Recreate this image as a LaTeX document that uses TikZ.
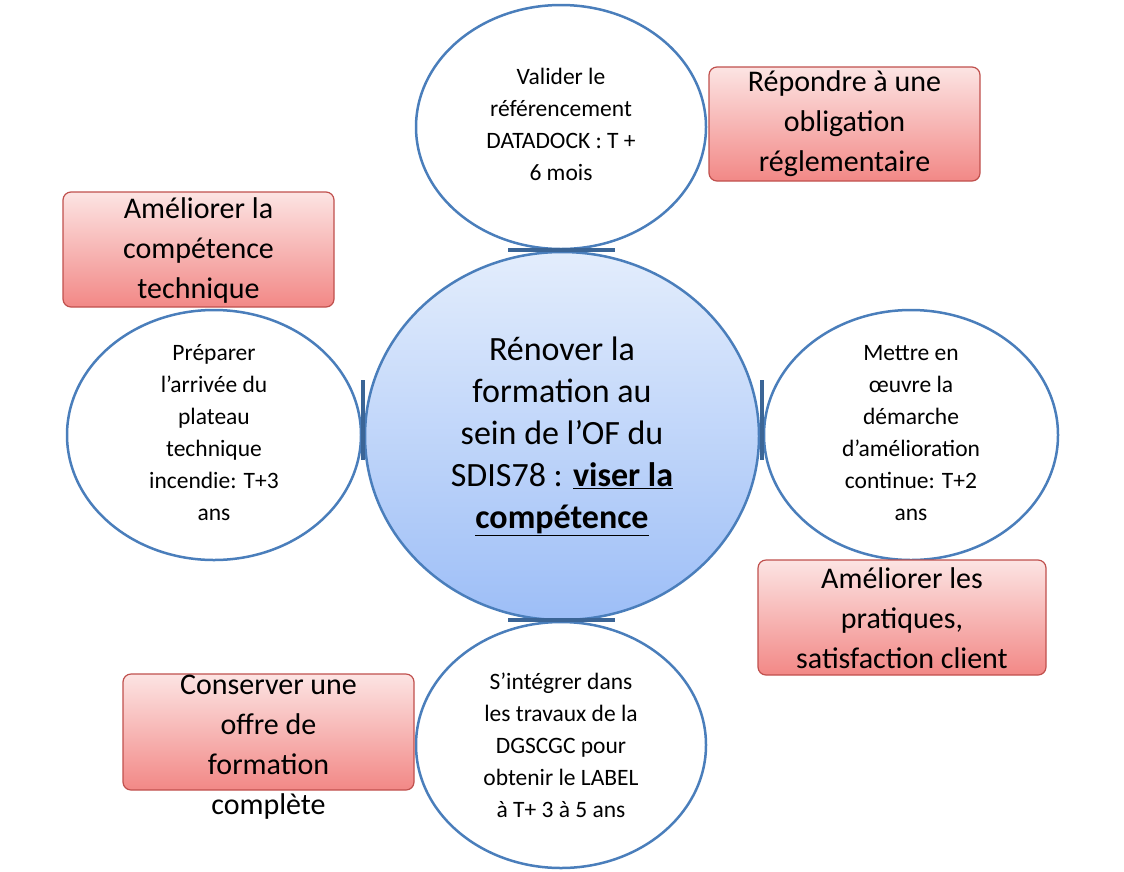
\documentclass[tikz,border=0pt]{standalone}
\usepackage{fontspec}
\setmainfont{Carlito}
\begin{document}
\begin{tikzpicture}[x=1pt,y=-1pt,
  ctext/.style={align=center,font=\fontsize{23.5}{32}\selectfont},
  redbox/.style={draw=rbord,line width=1.2pt,rounded corners=8pt,top color=rtop,bottom color=rbot},
  rtext/.style={align=center,font=\fontsize{30}{40}\selectfont},
  bar/.style={draw=bord!80!black,line width=4pt}]
\definecolor{bord}{HTML}{4A7EBB}
\definecolor{rbord}{HTML}{C0504D}
\definecolor{rtop}{HTML}{FCE4E3}
\definecolor{rbot}{HTML}{F28886}
\definecolor{ctop}{HTML}{E3EDFC}
\definecolor{cbot}{HTML}{9DBEF7}
\useasboundingbox (0,0) rectangle (1124,871);
% center
\shade[top color=ctop,bottom color=cbot,draw=bord,line width=2.5pt] (562,436) ellipse [x radius=197,y radius=184];
\node[align=center,font=\fontsize{34}{42}\selectfont] (c) at (562,436) {Rénover la\\formation au\\sein de l’OF du\\SDIS78 : \underline{\textbf{viser la}}\\\underline{\textbf{compétence}}};
% circles
\draw[bord,line width=2.5pt,fill=white] (561,127) ellipse [x radius=145,y radius=122];
\node[ctext] (t) at (561,124) {Valider le\\référencement\\DATADOCK : T +\\6 mois};
\draw[bord,line width=2.5pt,fill=white] (214,435) ellipse [x radius=147,y radius=125];
\node[ctext] (l) at (214,433) {Préparer\\l’arrivée du\\plateau\\technique\\incendie: T+3\\ans};
\draw[bord,line width=2.5pt,fill=white] (911,435) ellipse [x radius=147,y radius=125];
\node[ctext] (r) at (911,433) {Mettre en\\œuvre la\\démarche\\d’amélioration\\continue: T+2\\ans};
\draw[bord,line width=2.5pt,fill=white] (561,745) ellipse [x radius=145,y radius=123];
\node[ctext] (b) at (561,745) {S’intégrer dans\\les travaux de la\\DGSCGC pour\\obtenir le LABEL\\à T+ 3 à 5 ans};
% bars
\coordinate (tb1) at (508,250); \coordinate (tb2) at (615,250);
\coordinate (bb1) at (508,620); \coordinate (bb2) at (615,620);
\coordinate (lb1) at (363,380); \coordinate (lb2) at (363,460);
\coordinate (rb1) at (762,380); \coordinate (rb2) at (762,460);
\draw[bar] (tb1)--(tb2); \draw[bar] (bb1)--(bb2);
\draw[bar] (lb1)--(lb2); \draw[bar] (rb1)--(rb2);
% red boxes
\draw[redbox] (709,67) rectangle (980,181);
\node[rtext] (r1) at (844.5,124) {Répondre à une\\obligation\\réglementaire};
\draw[redbox] (63,192) rectangle (334,307);
\node[rtext] (r2) at (198.5,250) {Améliorer la\\compétence\\technique};
\draw[redbox] (758,560) rectangle (1046,675);
\node[rtext] (r3) at (902,618) {Améliorer les\\pratiques,\\satisfaction client};
\draw[redbox] (123,674) rectangle (414,790);
\node[rtext] (r4) at (268.5,747) {Conserver une\\offre de\\formation\\complète};
\end{tikzpicture}
\end{document}
